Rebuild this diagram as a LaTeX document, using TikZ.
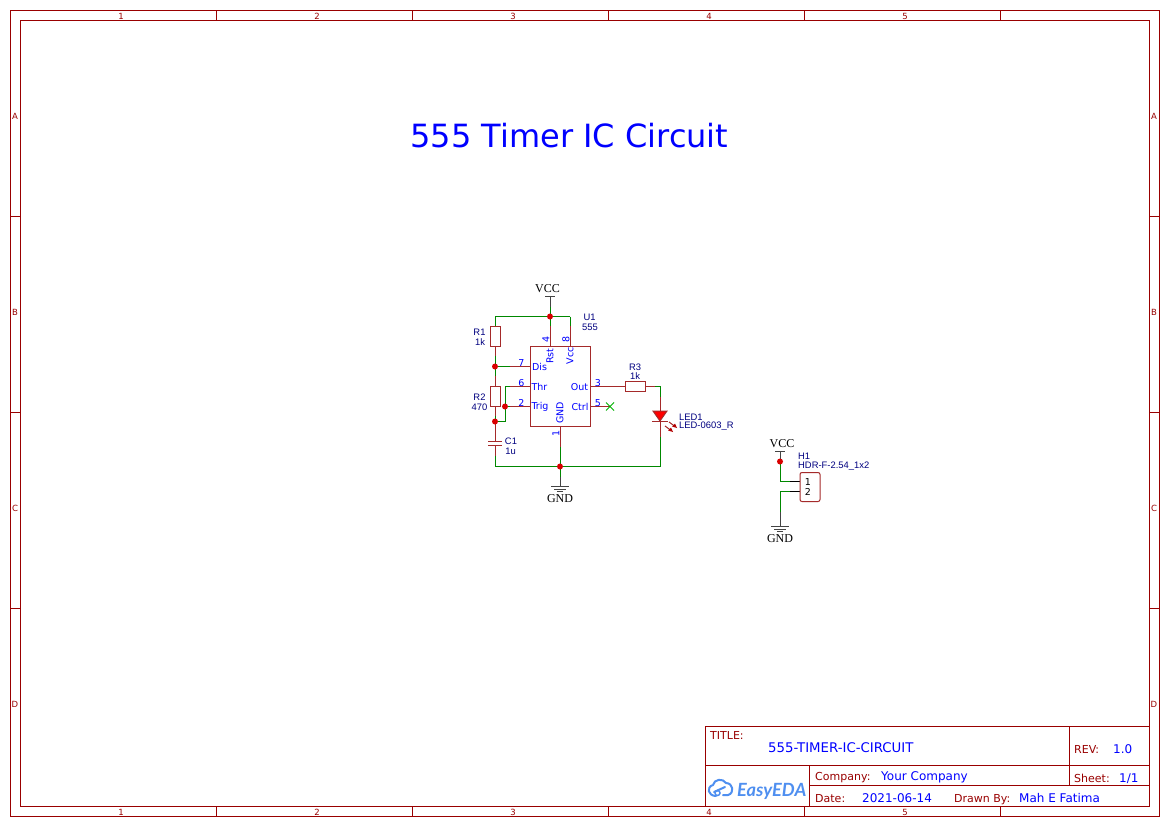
\documentclass[tikz,border=0pt]{standalone}
\usepackage{fontspec}
\setmainfont{DejaVu Sans}
\newfontfamily\refsfont{Liberation Sans}
\newfontfamily\portfont{Liberation Serif}
\newfontfamily\logofont{Lato}[BoldItalicFont=* Bold Italic]
\usetikzlibrary{positioning}
\definecolor{framered}{HTML}{990000}
\definecolor{pinred}{HTML}{A52A2A}
\definecolor{wiregreen}{HTML}{008800}
\definecolor{portgray}{HTML}{444444}
\definecolor{logoblue}{HTML}{4F8FF0}
\tikzset{
  sheettxt/.style={inner sep=0pt,text=framered,font=\fontsize{8.5}{8.5}\selectfont},
  frameline/.style={draw=framered,line width=1pt},
  blocklbl/.style={inner sep=0pt,anchor=base west,text=framered,font=\fontsize{11}{11}\selectfont},
  blockval/.style={inner sep=0pt,anchor=base west,text=blue,font=\fontsize{12}{12}\selectfont},
  pintxt/.style={inner sep=0pt,text=blue,font=\fontsize{9.5}{9.5}\selectfont},
  reftxt/.style={inner sep=0pt,text=blue!50!black,font=\refsfont\fontsize{9.4}{9.4}\selectfont},
  porttxt/.style={inner sep=0pt,text=black,font=\portfont\fontsize{12}{12}\selectfont},
  wire/.style={draw=wiregreen,line width=1pt},
  pinline/.style={draw=pinred,line width=1pt},
  partbox/.style={draw=pinred,line width=1pt},
  portline/.style={draw=portgray,line width=1pt},
  junction/.style={circle,fill=red!85!black,inner sep=0pt,minimum size=6pt}
}
\begin{document}
\begin{tikzpicture}[x=1pt,y=-1pt]
    \useasboundingbox (0,0) rectangle (1169,827);
    \fill[white] (0,0) rectangle (1169,827);
    % Sheet frame
    \draw[frameline] (10,10.5) rectangle (1159,816.5);
    \draw[frameline] (20,20.5) rectangle (1149,806.5);
    \foreach \x in {216,412,608,804,1000} {
        \draw[frameline] (\x,10.5) -- (\x,20.5);
        \draw[frameline] (\x,806.5) -- (\x,816.5);
    }
    \foreach \y in {216.5,412.5,608.5} {
        \draw[frameline] (10,\y) -- (20,\y);
        \draw[frameline] (1149,\y) -- (1159,\y);
    }
    \foreach \n/\x in {1/121,2/317,3/513,4/709,5/905} {
        \node[sheettxt] (coltop\n) at (\x,16) {\n};
        \node[sheettxt] (colbot\n) at (\x,812) {\n};
    }
    \foreach \n/\y in {A/116,B/312,C/508,D/704} {
        \node[sheettxt] (rowleft\n) at (15,\y) {\n};
        \node[sheettxt] (rowright\n) at (1154,\y) {\n};
    }
    % Title
    \node[inner sep=0pt,text=blue,font=\fontsize{32}{32}\selectfont] (title) at (569.5,135.5) {555 Timer IC Circuit};
    % Title block
    \draw[frameline] (705,726.5) rectangle (1149,806.5);
    \draw[frameline] (705,765.5) -- (1149,765.5);
    \draw[frameline] (809,785.5) -- (1149,785.5);
    \draw[frameline] (1069,726.5) -- (1069,785.5);
    \draw[frameline] (809,765.5) -- (809,806.5);
    \node[blocklbl] (lbltitle) at (710,739) {TITLE:};
    \node[blockval,font=\fontsize{13.3}{13.3}\selectfont] (valtitle) at (768,752) {555-TIMER-IC-CIRCUIT};
    \node[blocklbl] (lblrev) at (1074,753) {REV:};
    \node[blockval] (valrev) at (1113,753) {1.0};
    \node[blocklbl] (lblcompany) at (815,780) {Company:};
    \node[blockval] (valcompany) at (881,780) {Your Company};
    \node[blocklbl] (lblsheet) at (1074,782) {Sheet:};
    \node[blockval] (valsheet) at (1119,782) {1/1};
    \node[blocklbl] (lbldate) at (815,802) {Date:};
    \node[blockval] (valdate) at (862,802) {2021-06-14};
    \node[blocklbl] (lbldrawn) at (954,802) {Drawn By:};
    \node[blockval] (valdrawn) at (1019,802) {Mah E Fatima};
    % Logo
    \draw[logoblue,line width=2pt,line cap=round,line join=round]
        (716,796) .. controls (708,796) and (706,787) .. (713,785)
        .. controls (714,779) and (723,778) .. (726,783)
        .. controls (733,783) and (735,793) .. (728,795) -- (723,795);
    \draw[logoblue,line width=2pt,line cap=round] (714,792) -- (725,787);
    \draw[logoblue,line width=1.5pt] (717.5,793) circle (2.5);
    \node[inner sep=0pt,anchor=base west,text=logoblue,font=\logofont\bfseries\itshape\fontsize{18.2}{18.2}\selectfont] (logo) at (737,796) {EasyEDA};
    % Schematic points
    \foreach \n/\x/\y in {vccbar/550/296.5, vccwire/550/306.5, top/550/316.5, topleft/495/316.5, topright/570/316.5,
        ronetop/495/326, ronebot/495/346, ronepin/495/356, dis/495/366.5, rtwopin/495/376, rtwotop/495/386, rtwobot/495/406, rtwoend/495/416, mid/495/421.5,
        midright/505/421.5, trig/505/406.5, thrcorner/505/386.5,
        capa/495/441, capb/495/445, capwire/495/456, botleft/495/466.5, bot/560/466.5, botright/660/466.5,
        gndwire/560/476.5, gndbar/560/486.5,
        pinfourtop/550/326, pinfour/550/346.5, pineighttop/570/326, pineight/570/346.5,
        pinsevenl/510/366.5, pinseven/530/366.5, pinsixl/510/386.5, pinsix/530/386.5, pintwol/510/406.5, pintwo/530/406.5,
        pinthree/590/386.5, pinthreer/615/386.5, rthreel/625/386.5, rthreer/645/386.5, rthreepin/655/386.5, ledcorner/660/386.5,
        ledwire/660/396.5, ledtop/660/411, ledbot/660/421, ledpin/660/436.5,
        pinfive/590/406.5, pinfiver/610/406.5,
        pinone/560/426.5, pinoner/560/446.5,
        hvccbar/780/451.5, hvccwire/780/461.5, hone/780/481.5, honepin/790/481.5, honeend/800/481.5,
        htwo/780/491.5, htwopin/790/491.5, htwoend/800/491.5, hgndwire/780/512, hgndbar/780/526.5}
        \coordinate (\n) at (\x,\y);
    % Wires
    \draw[wire] (topleft) -- (topright);
    \draw[wire] (vccwire) -- (top);
    \draw[wire] (topleft) -- (ronetop);
    \draw[wire] (ronepin) -- (rtwopin);
    \draw[wire] (rtwoend) -- (mid) -- (midright) -- (thrcorner) -- (pinsixl);
    \draw[wire] (trig) -- (pintwol);
    \draw[wire] (dis) -- (pinsevenl);
    \draw[wire] (top) -- (pinfourtop);
    \draw[wire] (topright) -- (pineighttop);
    \draw[wire] (capwire) -- (botleft) -- (botright) -- (ledpin);
    \draw[wire] (pinoner) -- (gndwire);
    \draw[wire] (rthreepin) -- (ledcorner) -- (ledwire);
    \draw[wire] (hvccwire) -- (hone) -- (honepin);
    \draw[wire] (htwopin) -- (htwo) -- (hgndwire);
    % Pins
    \foreach \a/\b in {pinfourtop/pinfour, pineighttop/pineight, pinsevenl/pinseven, pinsixl/pinsix, pintwol/pintwo,
        pinthree/pinthreer, pinfive/pinfiver, pinone/pinoner, ronebot/ronepin, rtwopin/rtwotop, rtwobot/rtwoend,
        mid/capa, capb/capwire, rthreel/pinthreer, rthreer/rthreepin, ledwire/ledtop, ledbot/ledpin}
        \draw[pinline] (\a) -- (\b);
    \draw[draw=black,line width=1pt] (honepin) -- (honeend);
    \draw[draw=black,line width=1pt] (htwopin) -- (htwoend);
    % Parts
    \draw[partbox] (490,326) rectangle (500,346);
    \draw[partbox] (490,386) rectangle (500,406);
    \draw[partbox] (625,381.5) rectangle (645,391.5);
    \draw[partbox] (530,346.5) rectangle (590,426.5);
    \draw[partbox] (488,441) -- (502,441);
    \draw[partbox] (488,445) -- (502,445);
    \draw[partbox,fill=red] (653,411) -- (667,411) -- (ledbot) -- cycle;
    \draw[partbox] (652,421) -- (668,421);
    \draw[partbox,rounded corners=2pt] (800,472.5) rectangle (820,501.5);
    % LED light
    \foreach \x/\y in {669/422,665/426} {
        \draw[pinred,line width=1pt] (\x,\y) -- +(6,4.5);
        \fill[red!70!black] (\x+8,\y+6) -- +(-5,-1.5) -- +(-2,-4.5) -- cycle;
    }
    % No connect
    \draw[green!70!black,line width=1pt] (606,402.5) -- (614,410.5);
    \draw[green!70!black,line width=1pt] (606,410.5) -- (614,402.5);
    % Power ports
    \draw[portline] (vccbar) -- (vccwire);
    \draw[portline] (545,296.5) -- (555,296.5);
    \draw[portline] (hvccbar) -- (hvccwire);
    \draw[portline] (775,451.5) -- (785,451.5);
    \draw[portline] (gndwire) -- (gndbar);
    \draw[portline] (hgndwire) -- (hgndbar);
    \foreach \c/\d in {560/486.5,780/526.5} {
        \draw[portline] (\c-9,\d) -- (\c+9,\d);
        \draw[portline] (\c-6,\d+2.5) -- (\c+6,\d+2.5);
        \draw[portline] (\c-3,\d+5) -- (\c+3,\d+5);
    }
    % Junctions
    \foreach \j in {top,dis,trig,mid,bot}
        \node[junction] (dot\j) at (\j) {};
    \node[junction] (dothvcc) at (hvccwire) {};
    % Ports text
    \node[porttxt] (vccone) at (547.5,288.8) {VCC};
    \node[porttxt] (gndone) at (560,499) {GND};
    \node[porttxt] (vcctwo) at (782,443.8) {VCC};
    \node[porttxt] (gndtwo) at (780,539) {GND};
    % Pin names and numbers
    \foreach \n/\t/\x/\y in {pdis/Dis/539.5/367.2, pthr/Thr/539.5/387.2, ptrig/Trig/540/407.2, pout/Out/579.5/387.2, pctrl/Ctrl/580/407.2,
        nseven/7/521.5/362.7, nsix/6/521.5/382.7, ntwo/2/521.5/402.7, nthree/3/598/382.7, nfive/5/598/402.7}
        \node[pintxt] (\n) at (\x,\y) {\t};
    \foreach \n/\t/\x/\y in {prst/Rst/550/356, pvcc/Vcc/570/356, pgnd/GND/560/413, nfour/4/546/339, neight/8/566/339, none/1/556/433}
        \node[pintxt,rotate=90] (\n) at (\x,\y) {\t};
    \node[pintxt,text=black] (hpone) at (808,481.7) {1};
    \node[pintxt,text=black] (hptwo) at (808,491.7) {2};
    % Part labels
    \foreach \n/\t/\x/\y in {uone/U1/589.5/317, uval/555/590/327, rone/R1/479.5/332, roneval/1k/480/342, rtwo/R2/479.5/397, rtwoval/470/479.5/407,
        cone/C1/511/441.5, coneval/1u/510.5/451.5, rthree/R3/635/367, rthreeval/1k/635/376.5}
        \node[reftxt] (\n) at (\x,\y) {\t};
    \foreach \n/\t/\x/\y in {ledone/LED1/679/417, ledval/LED-0603\_R/679/426, hname/H1/798/456.5, hval/HDR-F-2.54\_1x2/798/466}
        \node[reftxt,anchor=west] (\n) at (\x,\y) {\t};
\end{tikzpicture}
\end{document}
